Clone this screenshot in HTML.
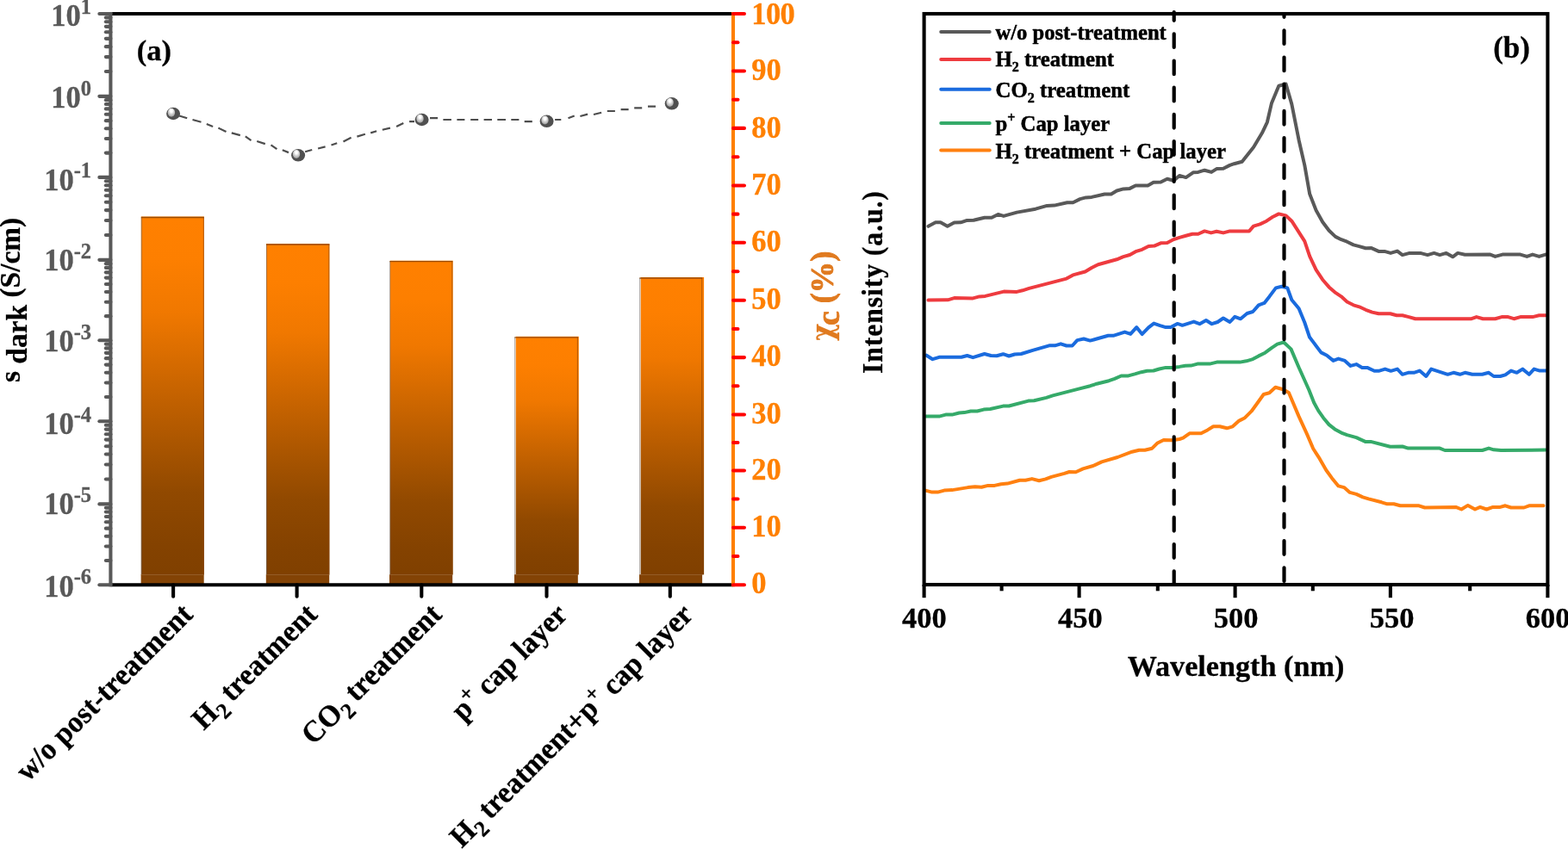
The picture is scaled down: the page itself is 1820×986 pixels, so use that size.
<!DOCTYPE html>
<html lang="en">
<head>
<meta charset="utf-8">
<title>Figure: dark conductivity, crystallinity and PL spectra</title>
<style>
html,body{margin:0;padding:0;background:#fff;}
body{width:1820px;height:986px;overflow:hidden;}
svg{display:block;}
svg text{font-family:"Liberation Serif", serif;font-weight:bold;stroke-width:0.3px;stroke-linejoin:round;}
</style>
</head>
<body>
<svg width="1820" height="986" viewBox="0 0 1820 986">
<defs>
<linearGradient id="barg" x1="0" y1="0" x2="0" y2="1">
<stop offset="0" stop-color="#FF8000"/>
<stop offset="0.12" stop-color="#FD7F00"/>
<stop offset="0.27" stop-color="#F07800"/>
<stop offset="0.52" stop-color="#C06000"/>
<stop offset="0.77" stop-color="#914900"/>
<stop offset="0.92" stop-color="#844200"/>
<stop offset="1" stop-color="#804000"/>
</linearGradient>
<radialGradient id="hl" cx="0.5" cy="0.36" r="0.68" fx="0.5" fy="0.3">
<stop offset="0" stop-color="#ffffff"/>
<stop offset="0.22" stop-color="#ffffff"/>
<stop offset="0.5" stop-color="#d6d6d6"/>
<stop offset="0.8" stop-color="#b0b0b0"/>
<stop offset="1" stop-color="#8a8a8a"/>
</radialGradient>
</defs>
<rect x="0" y="0" width="1820" height="986" fill="#ffffff"/>
<rect x="163.80" y="251.50" width="73.10" height="415.90" fill="url(#barg)"/>
<path d="M164.30,667.40 V252.50" fill="none" stroke="#6e6258" stroke-opacity="0.6" stroke-width="1"/>
<path d="M163.80,252.50 H236.90" fill="none" stroke="#7a3c00" stroke-opacity="0.75" stroke-width="1.3"/>
<path d="M236.30,252.50 V667.40" fill="none" stroke="#8a4500" stroke-opacity="0.6" stroke-width="1.1"/>
<rect x="163.60" y="667.30" width="73.10" height="11.9" fill="#834305"/>
<path d="M163.60,667.60 H236.70" fill="none" stroke="#8f5218" stroke-opacity="0.7" stroke-width="0.6"/>
<rect x="309.00" y="283.00" width="73.40" height="384.40" fill="url(#barg)"/>
<path d="M309.50,667.40 V284.00" fill="none" stroke="#6e6258" stroke-opacity="0.6" stroke-width="1"/>
<path d="M309.00,284.00 H382.40" fill="none" stroke="#7a3c00" stroke-opacity="0.75" stroke-width="1.3"/>
<path d="M381.80,284.00 V667.40" fill="none" stroke="#8a4500" stroke-opacity="0.6" stroke-width="1.1"/>
<rect x="308.80" y="667.30" width="73.40" height="11.9" fill="#834305"/>
<path d="M308.80,667.60 H382.20" fill="none" stroke="#8f5218" stroke-opacity="0.7" stroke-width="0.6"/>
<rect x="452.80" y="302.70" width="72.90" height="364.70" fill="url(#barg)"/>
<path d="M452.70,667.40 V303.70" fill="none" stroke="#6e6258" stroke-opacity="0.6" stroke-width="1"/>
<path d="M452.20,303.70 H525.40" fill="none" stroke="#7a3c00" stroke-opacity="0.75" stroke-width="1.3"/>
<path d="M524.80,303.70 V667.40" fill="none" stroke="#8a4500" stroke-opacity="0.6" stroke-width="1.1"/>
<rect x="452.00" y="667.30" width="73.20" height="11.9" fill="#834305"/>
<path d="M452.00,667.60 H525.20" fill="none" stroke="#8f5218" stroke-opacity="0.7" stroke-width="0.6"/>
<rect x="598.70" y="390.80" width="73.10" height="276.60" fill="url(#barg)"/>
<path d="M597.70,667.40 V391.80" fill="none" stroke="#6e6258" stroke-opacity="0.6" stroke-width="1"/>
<path d="M597.20,391.80 H671.00" fill="none" stroke="#7a3c00" stroke-opacity="0.75" stroke-width="1.3"/>
<path d="M670.40,391.80 V667.40" fill="none" stroke="#8a4500" stroke-opacity="0.6" stroke-width="1.1"/>
<rect x="597.00" y="667.30" width="73.80" height="11.9" fill="#834305"/>
<path d="M597.00,667.60 H670.80" fill="none" stroke="#8f5218" stroke-opacity="0.7" stroke-width="0.6"/>
<rect x="743.70" y="322.00" width="73.40" height="345.40" fill="url(#barg)"/>
<path d="M742.70,667.40 V323.00" fill="none" stroke="#6e6258" stroke-opacity="0.6" stroke-width="1"/>
<path d="M742.20,323.00 H815.30" fill="none" stroke="#7a3c00" stroke-opacity="0.75" stroke-width="1.3"/>
<path d="M814.70,323.00 V667.40" fill="none" stroke="#8a4500" stroke-opacity="0.6" stroke-width="1.1"/>
<rect x="742.00" y="667.30" width="73.10" height="11.9" fill="#834305"/>
<path d="M742.00,667.60 H815.10" fill="none" stroke="#8f5218" stroke-opacity="0.7" stroke-width="0.6"/>
<line x1="128.40" y1="16.00" x2="851.00" y2="16.00" stroke="#000" stroke-width="4.1" stroke-linecap="butt" />
<line x1="128.40" y1="679.20" x2="851.00" y2="679.20" stroke="#000" stroke-width="4.1" stroke-linecap="butt" />
<line x1="128.40" y1="13.95" x2="128.40" y2="681.25" stroke="#595959" stroke-width="4.1" stroke-linecap="butt" />
<line x1="851.00" y1="13.95" x2="851.00" y2="681.25" stroke="#FF8000" stroke-width="4.1" stroke-linecap="butt" />
<line x1="128.40" y1="16.00" x2="115.35" y2="16.00" stroke="#595959" stroke-width="4.1" stroke-linecap="round" />
<line x1="128.40" y1="83.00" x2="122.85" y2="83.00" stroke="#595959" stroke-width="4.1" stroke-linecap="round" />
<line x1="128.40" y1="66.12" x2="122.85" y2="66.12" stroke="#595959" stroke-width="4.1" stroke-linecap="round" />
<line x1="128.40" y1="54.14" x2="122.85" y2="54.14" stroke="#595959" stroke-width="4.1" stroke-linecap="round" />
<line x1="128.40" y1="44.85" x2="122.85" y2="44.85" stroke="#595959" stroke-width="4.1" stroke-linecap="round" />
<line x1="128.40" y1="37.26" x2="122.85" y2="37.26" stroke="#595959" stroke-width="4.1" stroke-linecap="round" />
<line x1="128.40" y1="30.85" x2="122.85" y2="30.85" stroke="#595959" stroke-width="4.1" stroke-linecap="round" />
<line x1="128.40" y1="25.29" x2="122.85" y2="25.29" stroke="#595959" stroke-width="4.1" stroke-linecap="round" />
<line x1="128.40" y1="20.39" x2="122.85" y2="20.39" stroke="#595959" stroke-width="4.1" stroke-linecap="round" />
<text transform="translate(106.10,29.90) scale(1,1.025)" font-size="34.5" fill="#595959" stroke="#595959" text-anchor="end">10<tspan font-size="24.5" dy="-13.9">1</tspan></text>
<line x1="128.40" y1="111.85" x2="115.35" y2="111.85" stroke="#595959" stroke-width="4.1" stroke-linecap="round" />
<line x1="128.40" y1="177.59" x2="122.85" y2="177.59" stroke="#595959" stroke-width="4.1" stroke-linecap="round" />
<line x1="128.40" y1="161.03" x2="122.85" y2="161.03" stroke="#595959" stroke-width="4.1" stroke-linecap="round" />
<line x1="128.40" y1="149.28" x2="122.85" y2="149.28" stroke="#595959" stroke-width="4.1" stroke-linecap="round" />
<line x1="128.40" y1="140.16" x2="122.85" y2="140.16" stroke="#595959" stroke-width="4.1" stroke-linecap="round" />
<line x1="128.40" y1="132.71" x2="122.85" y2="132.71" stroke="#595959" stroke-width="4.1" stroke-linecap="round" />
<line x1="128.40" y1="126.42" x2="122.85" y2="126.42" stroke="#595959" stroke-width="4.1" stroke-linecap="round" />
<line x1="128.40" y1="120.96" x2="122.85" y2="120.96" stroke="#595959" stroke-width="4.1" stroke-linecap="round" />
<line x1="128.40" y1="116.15" x2="122.85" y2="116.15" stroke="#595959" stroke-width="4.1" stroke-linecap="round" />
<text transform="translate(106.10,124.90) scale(1,1.025)" font-size="34.5" fill="#595959" stroke="#595959" text-anchor="end">10<tspan font-size="24.5" dy="-13.9">0</tspan></text>
<line x1="128.40" y1="205.90" x2="115.35" y2="205.90" stroke="#595959" stroke-width="4.1" stroke-linecap="round" />
<line x1="128.40" y1="272.97" x2="122.85" y2="272.97" stroke="#595959" stroke-width="4.1" stroke-linecap="round" />
<line x1="128.40" y1="256.07" x2="122.85" y2="256.07" stroke="#595959" stroke-width="4.1" stroke-linecap="round" />
<line x1="128.40" y1="244.08" x2="122.85" y2="244.08" stroke="#595959" stroke-width="4.1" stroke-linecap="round" />
<line x1="128.40" y1="234.78" x2="122.85" y2="234.78" stroke="#595959" stroke-width="4.1" stroke-linecap="round" />
<line x1="128.40" y1="227.19" x2="122.85" y2="227.19" stroke="#595959" stroke-width="4.1" stroke-linecap="round" />
<line x1="128.40" y1="220.76" x2="122.85" y2="220.76" stroke="#595959" stroke-width="4.1" stroke-linecap="round" />
<line x1="128.40" y1="215.20" x2="122.85" y2="215.20" stroke="#595959" stroke-width="4.1" stroke-linecap="round" />
<line x1="128.40" y1="210.29" x2="122.85" y2="210.29" stroke="#595959" stroke-width="4.1" stroke-linecap="round" />
<text transform="translate(106.10,220.70) scale(1,1.025)" font-size="34.5" fill="#595959" stroke="#595959" text-anchor="end">10<tspan font-size="24.5" dy="-13.9">-1</tspan></text>
<line x1="128.40" y1="301.85" x2="115.35" y2="301.85" stroke="#595959" stroke-width="4.1" stroke-linecap="round" />
<line x1="128.40" y1="367.17" x2="122.85" y2="367.17" stroke="#595959" stroke-width="4.1" stroke-linecap="round" />
<line x1="128.40" y1="350.71" x2="122.85" y2="350.71" stroke="#595959" stroke-width="4.1" stroke-linecap="round" />
<line x1="128.40" y1="339.04" x2="122.85" y2="339.04" stroke="#595959" stroke-width="4.1" stroke-linecap="round" />
<line x1="128.40" y1="329.98" x2="122.85" y2="329.98" stroke="#595959" stroke-width="4.1" stroke-linecap="round" />
<line x1="128.40" y1="322.58" x2="122.85" y2="322.58" stroke="#595959" stroke-width="4.1" stroke-linecap="round" />
<line x1="128.40" y1="316.33" x2="122.85" y2="316.33" stroke="#595959" stroke-width="4.1" stroke-linecap="round" />
<line x1="128.40" y1="310.91" x2="122.85" y2="310.91" stroke="#595959" stroke-width="4.1" stroke-linecap="round" />
<line x1="128.40" y1="306.13" x2="122.85" y2="306.13" stroke="#595959" stroke-width="4.1" stroke-linecap="round" />
<text transform="translate(106.10,314.20) scale(1,1.025)" font-size="34.5" fill="#595959" stroke="#595959" text-anchor="end">10<tspan font-size="24.5" dy="-13.9">-2</tspan></text>
<line x1="128.40" y1="395.30" x2="115.35" y2="395.30" stroke="#595959" stroke-width="4.1" stroke-linecap="round" />
<line x1="128.40" y1="461.00" x2="122.85" y2="461.00" stroke="#595959" stroke-width="4.1" stroke-linecap="round" />
<line x1="128.40" y1="444.45" x2="122.85" y2="444.45" stroke="#595959" stroke-width="4.1" stroke-linecap="round" />
<line x1="128.40" y1="432.71" x2="122.85" y2="432.71" stroke="#595959" stroke-width="4.1" stroke-linecap="round" />
<line x1="128.40" y1="423.60" x2="122.85" y2="423.60" stroke="#595959" stroke-width="4.1" stroke-linecap="round" />
<line x1="128.40" y1="416.15" x2="122.85" y2="416.15" stroke="#595959" stroke-width="4.1" stroke-linecap="round" />
<line x1="128.40" y1="409.86" x2="122.85" y2="409.86" stroke="#595959" stroke-width="4.1" stroke-linecap="round" />
<line x1="128.40" y1="404.41" x2="122.85" y2="404.41" stroke="#595959" stroke-width="4.1" stroke-linecap="round" />
<line x1="128.40" y1="399.60" x2="122.85" y2="399.60" stroke="#595959" stroke-width="4.1" stroke-linecap="round" />
<text transform="translate(106.10,408.00) scale(1,1.025)" font-size="34.5" fill="#595959" stroke="#595959" text-anchor="end">10<tspan font-size="24.5" dy="-13.9">-3</tspan></text>
<line x1="128.40" y1="489.30" x2="115.35" y2="489.30" stroke="#595959" stroke-width="4.1" stroke-linecap="round" />
<line x1="128.40" y1="556.47" x2="122.85" y2="556.47" stroke="#595959" stroke-width="4.1" stroke-linecap="round" />
<line x1="128.40" y1="539.55" x2="122.85" y2="539.55" stroke="#595959" stroke-width="4.1" stroke-linecap="round" />
<line x1="128.40" y1="527.54" x2="122.85" y2="527.54" stroke="#595959" stroke-width="4.1" stroke-linecap="round" />
<line x1="128.40" y1="518.23" x2="122.85" y2="518.23" stroke="#595959" stroke-width="4.1" stroke-linecap="round" />
<line x1="128.40" y1="510.62" x2="122.85" y2="510.62" stroke="#595959" stroke-width="4.1" stroke-linecap="round" />
<line x1="128.40" y1="504.19" x2="122.85" y2="504.19" stroke="#595959" stroke-width="4.1" stroke-linecap="round" />
<line x1="128.40" y1="498.61" x2="122.85" y2="498.61" stroke="#595959" stroke-width="4.1" stroke-linecap="round" />
<line x1="128.40" y1="493.70" x2="122.85" y2="493.70" stroke="#595959" stroke-width="4.1" stroke-linecap="round" />
<text transform="translate(106.10,504.30) scale(1,1.025)" font-size="34.5" fill="#595959" stroke="#595959" text-anchor="end">10<tspan font-size="24.5" dy="-13.9">-4</tspan></text>
<line x1="128.40" y1="585.40" x2="115.35" y2="585.40" stroke="#595959" stroke-width="4.1" stroke-linecap="round" />
<line x1="128.40" y1="650.96" x2="122.85" y2="650.96" stroke="#595959" stroke-width="4.1" stroke-linecap="round" />
<line x1="128.40" y1="634.45" x2="122.85" y2="634.45" stroke="#595959" stroke-width="4.1" stroke-linecap="round" />
<line x1="128.40" y1="622.73" x2="122.85" y2="622.73" stroke="#595959" stroke-width="4.1" stroke-linecap="round" />
<line x1="128.40" y1="613.64" x2="122.85" y2="613.64" stroke="#595959" stroke-width="4.1" stroke-linecap="round" />
<line x1="128.40" y1="606.21" x2="122.85" y2="606.21" stroke="#595959" stroke-width="4.1" stroke-linecap="round" />
<line x1="128.40" y1="599.93" x2="122.85" y2="599.93" stroke="#595959" stroke-width="4.1" stroke-linecap="round" />
<line x1="128.40" y1="594.49" x2="122.85" y2="594.49" stroke="#595959" stroke-width="4.1" stroke-linecap="round" />
<line x1="128.40" y1="589.69" x2="122.85" y2="589.69" stroke="#595959" stroke-width="4.1" stroke-linecap="round" />
<text transform="translate(106.10,597.00) scale(1,1.025)" font-size="34.5" fill="#595959" stroke="#595959" text-anchor="end">10<tspan font-size="24.5" dy="-13.9">-5</tspan></text>
<line x1="128.40" y1="679.20" x2="115.35" y2="679.20" stroke="#595959" stroke-width="4.1" stroke-linecap="round" />
<text transform="translate(106.10,692.70) scale(1,1.025)" font-size="34.5" fill="#595959" stroke="#595959" text-anchor="end">10<tspan font-size="24.5" dy="-13.9">-6</tspan></text>
<line x1="851.00" y1="679.20" x2="863.95" y2="679.20" stroke="#FF0000" stroke-width="4.1" stroke-linecap="round" />
<text transform="translate(872.30,689.30) scale(1,1.035)" font-size="34.5" fill="#FF8000" stroke="#FF8000">0</text>
<line x1="851.00" y1="645.94" x2="856.45" y2="645.94" stroke="#FF0000" stroke-width="4.1" stroke-linecap="round" />
<line x1="851.00" y1="612.68" x2="863.95" y2="612.68" stroke="#FF0000" stroke-width="4.1" stroke-linecap="round" />
<text transform="translate(872.30,623.00) scale(1,1.035)" font-size="34.5" fill="#FF8000" stroke="#FF8000">10</text>
<line x1="851.00" y1="579.57" x2="856.45" y2="579.57" stroke="#FF0000" stroke-width="4.1" stroke-linecap="round" />
<line x1="851.00" y1="546.46" x2="863.95" y2="546.46" stroke="#FF0000" stroke-width="4.1" stroke-linecap="round" />
<text transform="translate(872.30,557.40) scale(1,1.035)" font-size="34.5" fill="#FF8000" stroke="#FF8000">20</text>
<line x1="851.00" y1="513.95" x2="856.45" y2="513.95" stroke="#FF0000" stroke-width="4.1" stroke-linecap="round" />
<line x1="851.00" y1="481.44" x2="863.95" y2="481.44" stroke="#FF0000" stroke-width="4.1" stroke-linecap="round" />
<text transform="translate(872.30,491.50) scale(1,1.035)" font-size="34.5" fill="#FF8000" stroke="#FF8000">30</text>
<line x1="851.00" y1="448.28" x2="856.45" y2="448.28" stroke="#FF0000" stroke-width="4.1" stroke-linecap="round" />
<line x1="851.00" y1="415.12" x2="863.95" y2="415.12" stroke="#FF0000" stroke-width="4.1" stroke-linecap="round" />
<text transform="translate(872.30,425.30) scale(1,1.035)" font-size="34.5" fill="#FF8000" stroke="#FF8000">40</text>
<line x1="851.00" y1="381.96" x2="856.45" y2="381.96" stroke="#FF0000" stroke-width="4.1" stroke-linecap="round" />
<line x1="851.00" y1="348.80" x2="863.95" y2="348.80" stroke="#FF0000" stroke-width="4.1" stroke-linecap="round" />
<text transform="translate(872.30,358.90) scale(1,1.035)" font-size="34.5" fill="#FF8000" stroke="#FF8000">50</text>
<line x1="851.00" y1="315.29" x2="856.45" y2="315.29" stroke="#FF0000" stroke-width="4.1" stroke-linecap="round" />
<line x1="851.00" y1="281.78" x2="863.95" y2="281.78" stroke="#FF0000" stroke-width="4.1" stroke-linecap="round" />
<text transform="translate(872.30,292.40) scale(1,1.035)" font-size="34.5" fill="#FF8000" stroke="#FF8000">60</text>
<line x1="851.00" y1="248.67" x2="856.45" y2="248.67" stroke="#FF0000" stroke-width="4.1" stroke-linecap="round" />
<line x1="851.00" y1="215.56" x2="863.95" y2="215.56" stroke="#FF0000" stroke-width="4.1" stroke-linecap="round" />
<text transform="translate(872.30,225.70) scale(1,1.035)" font-size="34.5" fill="#FF8000" stroke="#FF8000">70</text>
<line x1="851.00" y1="182.23" x2="856.45" y2="182.23" stroke="#FF0000" stroke-width="4.1" stroke-linecap="round" />
<line x1="851.00" y1="148.89" x2="863.95" y2="148.89" stroke="#FF0000" stroke-width="4.1" stroke-linecap="round" />
<text transform="translate(872.30,159.50) scale(1,1.035)" font-size="34.5" fill="#FF8000" stroke="#FF8000">80</text>
<line x1="851.00" y1="115.71" x2="856.45" y2="115.71" stroke="#FF0000" stroke-width="4.1" stroke-linecap="round" />
<line x1="851.00" y1="82.52" x2="863.95" y2="82.52" stroke="#FF0000" stroke-width="4.1" stroke-linecap="round" />
<text transform="translate(872.30,93.00) scale(1,1.035)" font-size="34.5" fill="#FF8000" stroke="#FF8000">90</text>
<line x1="851.00" y1="49.26" x2="856.45" y2="49.26" stroke="#FF0000" stroke-width="4.1" stroke-linecap="round" />
<line x1="851.00" y1="16.00" x2="863.95" y2="16.00" stroke="#FF0000" stroke-width="4.1" stroke-linecap="round" />
<text transform="translate(872.30,28.00) scale(1,1.035)" font-size="34.5" fill="#FF8000" stroke="#FF8000" letter-spacing="-0.6">100</text>
<line x1="201.10" y1="679.20" x2="201.10" y2="692.70" stroke="#000" stroke-width="4.1" stroke-linecap="round" />
<line x1="344.60" y1="679.20" x2="344.60" y2="692.70" stroke="#000" stroke-width="4.1" stroke-linecap="round" />
<line x1="489.30" y1="679.20" x2="489.30" y2="692.70" stroke="#000" stroke-width="4.1" stroke-linecap="round" />
<line x1="634.50" y1="679.20" x2="634.50" y2="692.70" stroke="#000" stroke-width="4.1" stroke-linecap="round" />
<line x1="777.80" y1="679.20" x2="777.80" y2="692.70" stroke="#000" stroke-width="4.1" stroke-linecap="round" />
<path d="M208.1,134.5 L217.2,137.2 M223.5,139.0 L233.5,141.7 M239.8,144.1 L247.1,147.1 M253.4,148.6 L262.5,153.1 M268.8,154.4 L278.8,157.1 M284.8,158.4 L291.5,163.1 M298.2,164.0 L307.8,167.1 M314.5,168.4 L321.4,173.1 M327.8,174.3 L335.0,177.1 M354.1,176.2 L362.2,174.0 M369.1,172.5 L377.6,170.4 M384.5,168.5 L391.2,166.2 M398.5,164.4 L407.6,159.8 M414.4,158.6 L423.9,155.8 M430.2,154.4 L437.1,152.2 M443.8,150.8 L452.9,148.6 M460.1,147.1 L468.3,143.0 M475.2,141.2 L481.0,141.2 M475.1,141.2 L480.5,141.2 M499.0,137.2 L508.1,137.2 M514.4,139.0 L523.9,139.0 M530.4,139.0 L539.4,139.0 M546.2,139.0 L555.2,139.0 M561.6,139.0 L571.0,139.0 M577.3,139.0 L587.0,139.0 M593.3,139.0 L602.4,139.0 M608.7,141.2 L617.8,141.2 M644.1,139.0 L651.3,139.0 M659.5,137.2 L666.7,134.5 M673.4,135.0 L682.1,132.6 M689.0,133.0 L698.1,130.8 M704.8,129.0 L713.9,129.0 M720.6,127.2 L729.6,127.2 M736.2,125.4 L745.2,125.4 M752.0,123.6 L761.0,123.6" fill="none" stroke="#4d4d4d" stroke-width="2.2" stroke-linecap="butt"/>
<ellipse cx="201.1" cy="132.0" rx="8.0" ry="7.2" fill="#505050"/>
<ellipse cx="198.9" cy="130.7" rx="4.2" ry="5.0" fill="url(#hl)"/>
<ellipse cx="346.1" cy="180.3" rx="8.0" ry="7.2" fill="#505050"/>
<ellipse cx="344.0" cy="179.0" rx="4.2" ry="5.0" fill="url(#hl)"/>
<ellipse cx="489.6" cy="139.0" rx="8.0" ry="7.2" fill="#505050"/>
<ellipse cx="487.5" cy="137.7" rx="4.2" ry="5.0" fill="url(#hl)"/>
<ellipse cx="634.6" cy="140.8" rx="8.0" ry="7.2" fill="#505050"/>
<ellipse cx="632.5" cy="139.5" rx="4.2" ry="5.0" fill="url(#hl)"/>
<ellipse cx="779.7" cy="120.3" rx="8.0" ry="7.2" fill="#505050"/>
<ellipse cx="777.6" cy="119.0" rx="4.2" ry="5.0" fill="url(#hl)"/>
<text x="158.70" y="69.60" font-size="34.5" fill="#000" stroke="#000" text-anchor="start" >(a)</text>
<text transform="translate(23.1,444.0) rotate(-90) scale(0.955,0.99)" font-size="35" fill="#000" stroke="#000">s <tspan dy="8.3">dark</tspan><tspan dy="-8.3"> (S/cm)</tspan></text>
<text transform="translate(966.8,395.8) rotate(-90) scale(0.85,1)" font-size="35.5" fill="#E07A1F" stroke="#E07A1F" style="font-family:&quot;DejaVu Serif&quot;,&quot;Liberation Serif&quot;,serif">χ</text>
<text transform="translate(974.4,378.1) rotate(-90)" font-size="38" fill="#E07A1F" stroke="#E07A1F" style="stroke-width:0.8px">c</text>
<text transform="translate(966.9,352.3) rotate(-90) scale(0.97,1)" font-size="37.5" fill="#E07A1F" stroke="#E07A1F" style="stroke-width:0.9px">(%)</text>
<text transform="translate(225.5,715.5) rotate(-45) scale(0.968,1)" font-size="35" fill="#000" stroke="#000" text-anchor="end">w/o post-treatment</text>
<text transform="translate(370.0,715.5) rotate(-45) scale(0.968,1)" font-size="35" fill="#000" stroke="#000" text-anchor="end">H<tspan font-size="26" dy="8.5">2</tspan><tspan dy="-8.5" dx="-1"> treatment</tspan></text>
<text transform="translate(514.5,715.5) rotate(-45) scale(0.968,1)" font-size="35" fill="#000" stroke="#000" text-anchor="end">CO<tspan font-size="26" dy="8.5">2</tspan><tspan dy="-8.5" dx="-1"> treatment</tspan></text>
<text transform="translate(660.5,715.5) rotate(-45) scale(0.968,1)" font-size="35" fill="#000" stroke="#000" text-anchor="end">p<tspan font-size="25.5" dy="-12.5">+</tspan><tspan dy="12.5"> cap layer</tspan></text>
<text transform="translate(806.2,715.5) rotate(-45) scale(0.968,1)" font-size="35" fill="#000" stroke="#000" text-anchor="end">H<tspan font-size="26" dy="8.5">2</tspan><tspan dy="-8.5" dx="-1"> treatment+p</tspan><tspan font-size="25.5" dy="-12.5">+</tspan><tspan dy="12.5"> cap layer</tspan></text>
<path d="M1073.4,569.4 L1081.7,571.6 L1088.4,571.6 L1095.9,569.6 L1105.1,569.1 L1123.5,566.1 L1131.8,565.3 L1139.3,565.8 L1146.8,563.9 L1154.4,563.9 L1161.9,562.2 L1169.4,561.6 L1183.6,557.7 L1190.3,557.7 L1197.8,556.1 L1206.1,558.2 L1213.7,556.4 L1220.3,553.9 L1235.4,549.9 L1241.2,548.0 L1248.7,548.2 L1257.1,544.4 L1268.8,541.0 L1278.8,536.4 L1297.2,531.0 L1313.9,524.7 L1322.2,522.7 L1328.9,522.7 L1337.3,520.7 L1343.1,514.8 L1350.6,511.0 L1360.6,511.3 L1369.0,510.0 L1373.2,508.6 L1380.7,503.3 L1394.1,503.3 L1401.6,499.4 L1408.3,495.3 L1415.8,495.3 L1424.1,497.3 L1430.8,495.3 L1438.3,488.6 L1445.0,485.2 L1452.5,477.7 L1459.2,468.5 L1466.7,458.0 L1473.4,456.3 L1480.4,449.8 L1489.3,452.2 L1495.9,456.0 L1507.6,483.6 L1516.8,503.6 L1524.2,521.0 L1531.7,532.7 L1539.3,546.0 L1545.9,555.2 L1553.5,564.4 L1560.1,566.1 L1566.8,571.9 L1574.3,573.9 L1581.8,577.4 L1588.5,579.4 L1603.6,583.3 L1610.2,585.3 L1617.8,585.3 L1625.3,587.3 L1647.0,587.3 L1653.7,589.5 L1690.4,589.1 L1696.3,591.5 L1703.8,586.9 L1712.1,591.5 L1718.0,588.9 L1725.5,591.5 L1732.2,589.1 L1740.5,589.1 L1747.2,587.3 L1753.9,589.5 L1768.9,589.5 L1774.8,587.3 L1791.5,587.3" fill="none" stroke="#FF8010" stroke-width="4.0" stroke-linejoin="round" stroke-linecap="round"/>
<path d="M1074.7,483.6 L1090.1,483.6 L1097.6,481.6 L1105.1,481.6 L1113.4,479.5 L1119.3,479.1 L1126.8,477.5 L1134.3,477.5 L1141.8,475.6 L1149.4,475.0 L1164.4,471.6 L1171.1,471.5 L1193.6,465.6 L1200.3,465.3 L1214.5,461.9 L1222.0,459.4 L1252.1,451.6 L1265.4,448.2 L1273.0,445.7 L1287.2,442.2 L1293.8,439.9 L1301.4,436.5 L1309.7,436.4 L1317.2,434.4 L1324.7,432.2 L1331.4,430.7 L1338.9,430.5 L1345.6,428.5 L1353.1,426.9 L1360.6,426.9 L1369.0,425.9 L1375.7,424.8 L1382.4,424.6 L1389.9,422.6 L1404.1,422.6 L1412.4,420.6 L1439.2,420.6 L1446.7,419.3 L1454.2,417.1 L1460.9,413.4 L1468.4,409.7 L1475.9,404.2 L1482.6,399.7 L1490.1,397.5 L1498.5,405.4 L1507.6,426.8 L1519.3,452.7 L1525.2,467.7 L1530.2,476.9 L1536.0,485.2 L1542.6,493.1 L1549.3,498.4 L1556.8,502.6 L1563.5,505.1 L1574.3,508.1 L1585.2,513.1 L1591.0,512.9 L1613.6,518.8 L1627.8,518.5 L1634.5,520.6 L1671.2,520.6 L1677.1,523.0 L1720.5,523.0 L1728.0,520.6 L1733.8,522.3 L1742.2,523.1 L1794.0,522.6" fill="none" stroke="#35AA69" stroke-width="4.0" stroke-linejoin="round" stroke-linecap="round"/>
<path d="M1075.4,412.7 L1082.5,417.2 L1090.1,414.8 L1115.9,414.8 L1122.6,413.0 L1129.3,415.2 L1142.7,411.0 L1150.2,413.0 L1156.9,413.2 L1164.4,411.2 L1171.1,413.5 L1177.7,411.5 L1185.3,411.0 L1198.6,406.8 L1217.8,401.3 L1224.5,401.3 L1231.2,399.3 L1237.9,401.5 L1244.6,401.5 L1250.4,395.1 L1257.9,393.5 L1265.4,395.6 L1272.1,393.8 L1286.3,389.8 L1292.2,389.8 L1305.5,385.6 L1312.2,387.9 L1319.2,380.1 L1325.6,388.1 L1333.1,380.4 L1339.3,375.6 L1346.5,378.1 L1353.1,380.1 L1359.0,380.1 L1366.5,375.9 L1369.0,376.7 L1372.3,377.8 L1385.7,373.6 L1392.4,376.2 L1399.9,372.0 L1406.6,376.2 L1413.3,374.0 L1419.9,369.5 L1427.5,374.0 L1433.3,367.8 L1440.0,370.3 L1447.5,364.0 L1454.2,362.0 L1460.9,354.4 L1467.5,351.9 L1473.4,344.4 L1480.9,334.4 L1487.6,332.7 L1494.3,334.4 L1499.3,348.3 L1507.6,358.3 L1514.3,374.5 L1520.0,391.5 L1533.4,409.4 L1540.1,412.7 L1547.6,418.9 L1553.5,416.6 L1561.0,418.9 L1567.6,424.9 L1574.3,423.1 L1581.0,426.9 L1586.9,426.9 L1595.2,430.8 L1600.2,430.8 L1607.7,428.6 L1614.4,430.8 L1621.9,428.6 L1627.8,434.8 L1634.5,432.8 L1641.1,432.8 L1647.8,430.6 L1655.3,437.0 L1661.2,428.6 L1680.4,434.8 L1687.1,432.8 L1694.6,434.8 L1700.4,432.8 L1708.8,434.8 L1720.5,434.8 L1728.0,432.8 L1733.8,437.0 L1741.4,437.0 L1747.2,435.3 L1753.9,430.6 L1760.6,432.8 L1767.3,428.6 L1774.8,434.8 L1780.6,428.6 L1787.3,430.6 L1795.6,430.6" fill="none" stroke="#1A6BDE" stroke-width="4.0" stroke-linejoin="round" stroke-linecap="round"/>
<path d="M1077.5,348.6 L1100.1,348.3 L1107.6,346.1 L1129.3,346.4 L1136.8,344.4 L1143.5,343.9 L1165.2,338.6 L1180.3,338.9 L1186.9,337.3 L1194.5,334.9 L1237.9,323.6 L1245.4,319.4 L1259.6,315.5 L1267.1,311.0 L1274.6,307.2 L1296.3,301.3 L1303.9,298.2 L1311.4,296.0 L1318.1,292.2 L1325.6,289.8 L1333.1,286.0 L1339.8,285.6 L1347.3,282.3 L1354.8,282.1 L1362.3,278.1 L1369.0,275.9 L1376.5,273.8 L1384.0,271.8 L1390.7,271.8 L1398.2,268.4 L1405.7,270.4 L1412.1,268.8 L1419.9,270.4 L1427.5,268.4 L1450.0,268.4 L1455.0,262.6 L1462.5,260.4 L1470.1,256.7 L1477.6,251.7 L1484.3,248.4 L1492.6,250.4 L1499.3,256.7 L1514.3,280.1 L1520.2,297.6 L1527.6,313.4 L1535.1,324.7 L1542.6,333.4 L1549.3,339.3 L1556.8,344.3 L1563.5,350.4 L1571.0,354.3 L1577.7,356.3 L1585.2,359.8 L1592.7,362.6 L1600.2,364.3 L1613.6,364.3 L1621.1,366.3 L1627.8,366.3 L1635.3,368.1 L1642.8,370.2 L1708.0,370.2 L1713.8,368.1 L1721.3,370.2 L1735.5,370.2 L1743.0,368.1 L1750.5,368.1 L1757.2,370.2 L1764.7,368.1 L1778.9,368.1 L1786.5,366.3 L1794.0,366.3" fill="none" stroke="#EE3B3F" stroke-width="4.0" stroke-linejoin="round" stroke-linecap="round"/>
<path d="M1077.5,262.8 L1085.9,258.3 L1091.7,258.3 L1099.7,262.8 L1107.6,258.6 L1115.1,258.3 L1121.8,256.1 L1130.1,255.8 L1142.7,252.8 L1151.0,252.8 L1158.5,248.9 L1164.9,250.9 L1180.3,246.6 L1202.0,242.7 L1215.3,238.9 L1223.7,238.6 L1238.7,235.2 L1245.4,235.2 L1253.7,231.1 L1260.4,229.4 L1267.1,228.9 L1282.1,225.5 L1289.7,225.5 L1296.3,221.5 L1303.9,219.4 L1311.4,218.9 L1318.1,215.5 L1332.3,215.5 L1338.9,211.8 L1347.3,211.5 L1354.8,207.7 L1362.3,209.8 L1369.0,203.9 L1376.5,206.1 L1384.9,200.3 L1390.7,199.9 L1398.2,197.7 L1406.1,199.9 L1412.1,196.1 L1419.9,195.7 L1427.5,191.9 L1432.5,190.2 L1441.7,187.7 L1455.0,171.0 L1465.0,154.3 L1470.9,141.8 L1475.9,120.1 L1484.3,99.7 L1492.6,97.5 L1499.3,120.9 L1507.6,162.7 L1514.3,191.9 L1520.2,225.3 L1527.6,244.3 L1535.1,257.7 L1542.6,267.7 L1550.1,274.9 L1556.8,278.2 L1563.5,280.7 L1571.0,284.4 L1577.7,286.1 L1585.2,288.2 L1591.9,288.1 L1600.2,291.9 L1606.9,291.9 L1614.1,293.9 L1621.9,291.6 L1627.8,296.1 L1635.3,294.1 L1649.5,294.1 L1657.0,296.1 L1664.5,293.9 L1671.2,296.1 L1678.7,293.9 L1686.2,298.3 L1692.1,293.9 L1700.4,295.8 L1729.7,295.6 L1735.5,297.9 L1743.9,295.6 L1764.7,295.6 L1772.3,297.9 L1778.9,295.6 L1786.5,297.9 L1794.0,295.6" fill="none" stroke="#595959" stroke-width="4.0" stroke-linejoin="round" stroke-linecap="round"/>
<line x1="1362.7" y1="14.0" x2="1362.7" y2="679.0" stroke="#000" stroke-width="4.2" stroke-linecap="round" stroke-dasharray="15.7 15.5" stroke-dashoffset="5.9"/>
<line x1="1490.5" y1="16.0" x2="1490.5" y2="679.0" stroke="#000" stroke-width="4.2" stroke-linecap="round" stroke-dasharray="15.7 15.5" stroke-dashoffset="11.9"/>
<rect x="1072.6" y="16.0" width="723.80" height="663.00" fill="none" stroke="#000" stroke-width="4.1"/>
<line x1="1072.60" y1="679.00" x2="1072.60" y2="694.20" stroke="#000" stroke-width="4.1" stroke-linecap="butt" />
<text x="1072.80" y="728.90" font-size="34.5" fill="#000" stroke="#000" text-anchor="middle" >400</text>
<line x1="1162.60" y1="679.00" x2="1162.60" y2="686.30" stroke="#000" stroke-width="4.1" stroke-linecap="butt" />
<line x1="1252.60" y1="679.00" x2="1252.60" y2="694.20" stroke="#000" stroke-width="4.1" stroke-linecap="butt" />
<text x="1253.75" y="728.90" font-size="34.5" fill="#000" stroke="#000" text-anchor="middle" >450</text>
<line x1="1343.80" y1="679.00" x2="1343.80" y2="686.30" stroke="#000" stroke-width="4.1" stroke-linecap="butt" />
<line x1="1433.60" y1="679.00" x2="1433.60" y2="694.20" stroke="#000" stroke-width="4.1" stroke-linecap="butt" />
<text x="1434.70" y="728.90" font-size="34.5" fill="#000" stroke="#000" text-anchor="middle" >500</text>
<line x1="1523.80" y1="679.00" x2="1523.80" y2="686.30" stroke="#000" stroke-width="4.1" stroke-linecap="butt" />
<line x1="1613.90" y1="679.00" x2="1613.90" y2="694.20" stroke="#000" stroke-width="4.1" stroke-linecap="butt" />
<text x="1615.65" y="728.90" font-size="34.5" fill="#000" stroke="#000" text-anchor="middle" >550</text>
<line x1="1706.20" y1="679.00" x2="1706.20" y2="686.30" stroke="#000" stroke-width="4.1" stroke-linecap="butt" />
<line x1="1796.40" y1="679.00" x2="1796.40" y2="694.20" stroke="#000" stroke-width="4.1" stroke-linecap="butt" />
<text x="1796.60" y="728.90" font-size="34.5" fill="#000" stroke="#000" text-anchor="middle" >600</text>
<text x="1434.50" y="784.60" font-size="34.2" fill="#000" stroke="#000" text-anchor="middle" >Wavelength (nm)</text>
<text transform="translate(1024.2,327.6) rotate(-90) scale(0.94,1)" font-size="33.8" fill="#000" stroke="#000" text-anchor="middle" letter-spacing="0.95">Intensity (a.u.)</text>
<text x="1733.20" y="66.80" font-size="35" fill="#000" stroke="#000" text-anchor="start" >(b)</text>
<line x1="1092.20" y1="37.00" x2="1148.70" y2="37.00" stroke="#595959" stroke-width="4.0" stroke-linecap="round" />
<text transform="translate(1155.5,45.6) scale(0.965,1.02)" font-size="25.5" fill="#000" stroke="#000" style="stroke-width:0.5px">w/o post-treatment</text>
<line x1="1092.20" y1="68.90" x2="1148.70" y2="68.90" stroke="#EE3B3F" stroke-width="4.0" stroke-linecap="round" />
<text transform="translate(1155.5,77.0) scale(0.971,1.02)" font-size="25.5" fill="#000" stroke="#000" style="stroke-width:0.5px">H<tspan font-size="16.5" dy="6">2</tspan><tspan dy="-6"> treatment</tspan></text>
<line x1="1092.20" y1="103.80" x2="1148.70" y2="103.80" stroke="#1A6BDE" stroke-width="4.0" stroke-linecap="round" />
<text transform="translate(1155.5,113.1) scale(0.974,1.02)" font-size="25.5" fill="#000" stroke="#000" style="stroke-width:0.5px">CO<tspan font-size="16.5" dy="6">2</tspan><tspan dy="-6"> treatment</tspan></text>
<line x1="1092.20" y1="143.10" x2="1148.70" y2="143.10" stroke="#35AA69" stroke-width="4.0" stroke-linecap="round" />
<text transform="translate(1155.5,152.4) scale(0.97,1.02)" font-size="25.5" fill="#000" stroke="#000" style="stroke-width:0.5px">p<tspan font-size="16.5" dy="-10">+</tspan><tspan dy="10"> Cap layer</tspan></text>
<line x1="1092.20" y1="174.60" x2="1148.70" y2="174.60" stroke="#FF8010" stroke-width="4.0" stroke-linecap="round" />
<text transform="translate(1155.5,184.0) scale(0.97,1.02)" font-size="25.5" fill="#000" stroke="#000" style="stroke-width:0.5px">H<tspan font-size="16.5" dy="6">2</tspan><tspan dy="-6"> treatment + Cap layer</tspan></text>
</svg>
</body>
</html>
